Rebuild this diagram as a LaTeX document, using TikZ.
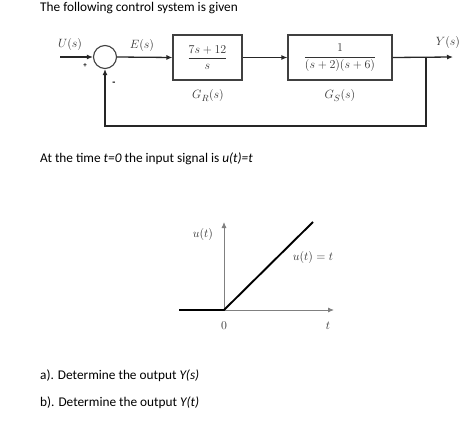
\documentclass[tikz,border=0pt]{standalone}
\usepackage{fontspec}
\setmainfont{Carlito}
\usepackage{amsmath}
\usetikzlibrary{arrows.meta}
\begin{document}
\begin{tikzpicture}[x=1pt,y=-1pt,
  sig/.style={line width=1.3pt,draw=black!85},
  arr/.style={sig,-{Latex[length=6pt,width=5pt]}},
  blk/.style={draw=black!75,line width=1.1pt,minimum width=69pt,minimum height=45pt,inner sep=0pt},
  mlab/.style={text=black!80,font=\fontsize{13}{15}\selectfont,inner sep=0pt},
  glab/.style={text=black!80,font=\fontsize{11.5}{13}\selectfont,inner sep=0pt},
  txt/.style={anchor=west,font=\fontsize{13.3}{16}\selectfont,inner sep=0pt},
  ax/.style={draw=black!50,line width=0.9pt,-{Latex[length=6pt,width=5pt]}}]
\useasboundingbox (0,0) rectangle (474,425);
\node[txt] (title) at (40,8) {The following control system is given};
% block diagram
\coordinate (in) at (60,57);
\node[circle,draw=black!75,line width=1.1pt,minimum size=23pt,inner sep=0pt] (sum) at (105,57) {};
\node[blk] (gr) at (207.5,57.5) {};
\node[blk,minimum width=104pt] (gs) at (340,57.5) {};
\coordinate (out) at (453,57);
\coordinate (br) at (426,57);
\coordinate (fb) at (426,126);
\coordinate (fb2) at (105,126);
\node[mlab] (gfrac) at (gr.center) {$\dfrac{7s+12}{\;s\;}$};
\node[mlab] (sfrac) at (gs.center) {$\dfrac{\;1\;}{(s+2)(s+6)}$};
\node[mlab] (grl) at (208,96) {$G_R(s)$};
\node[mlab] (gsl) at (340,96) {$G_S(s)$};
\node[mlab] (ul) at (70,45) {$U(s)$};
\node[mlab] (el) at (142,46) {$E(s)$};
\node[mlab] (yl) at (448,43) {$Y(s)$};
\node[font=\fontsize{7}{8}\selectfont\bfseries,inner sep=0pt] (plus) at (85,66) {+};
\node[font=\fontsize{10}{8}\selectfont\bfseries,inner sep=0pt] (minus) at (114,84) {-};
\draw[arr] (in) -- (sum.west);
\draw[arr] (sum.east) -- (gr.west);
\draw[arr] (gr.east) -- (gs.west);
\draw[arr] (gs.east) -- (out);
\draw[arr] (br) -- (fb) -- (fb2) -- (sum.south);
% text
\node[txt] (t2) at (40,159) {At the time \textit{t=0} the input signal is \textit{u(t)=t}};
% graph
\coordinate (o) at (224,310);
\coordinate (ytop) at (224,222);
\coordinate (xend) at (334,310);
\coordinate (left) at (179,310);
\coordinate (ramp) at (313,222);
\draw[ax] (o) -- (ytop);
\draw[ax] (o) -- (xend);
\draw[line width=1.9pt,line join=miter] (left) -- (o) -- (ramp);
\node[glab] (ut) at (203,234) {$u(t)$};
\node[glab] (utt) at (313,257) {$u(t)=t$};
\node[glab] (zero) at (224,326) {$0$};
\node[glab] (tl) at (328,326) {$t$};
% questions
\node[txt] (qa) at (40,376) {a). Determine the output \textit{Y(s)}};
\node[txt] (qb) at (40,403) {b). Determine the output \textit{Y(t)}};
\end{tikzpicture}
\end{document}
